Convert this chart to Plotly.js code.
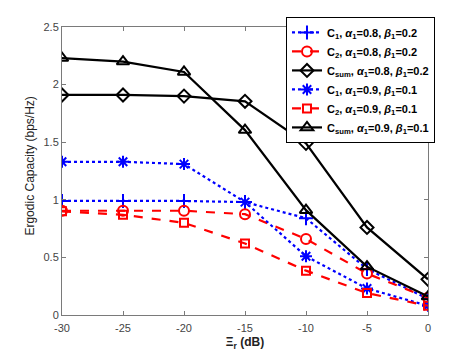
<!DOCTYPE html>
<html><head><meta charset="utf-8">
<script src="https://cdn.plot.ly/plotly-3.0.1.min.js"></script>
<style>body{margin:0;background:#fff}#c{width:474px;height:355px}</style>
</head><body><div id="c"></div>
<script>
const xVals = [-30, -25, -20, -15, -10, -5, 0];
const c1_a08 = [0.99, 0.99, 0.99, 0.98, 0.84, 0.40, 0.14];
const c2_a08 = [0.905, 0.905, 0.905, 0.875, 0.66, 0.36, 0.15];
const csum_a08 = [1.91, 1.91, 1.90, 1.855, 1.49, 0.76, 0.31];
const c1_a09 = [1.33, 1.33, 1.31, 0.98, 0.51, 0.23, 0.08];
const c2_a09 = [0.90, 0.87, 0.80, 0.62, 0.385, 0.19, 0.08];
const csum_a09 = [2.23, 2.20, 2.11, 1.605, 0.91, 0.42, 0.16];
const names = [
  'C<sub>1</sub>, <i>α</i><sub>1</sub>=0.8, <i>β</i><sub>1</sub>=0.2',
  'C<sub>2</sub>, <i>α</i><sub>1</sub>=0.8, <i>β</i><sub>1</sub>=0.2',
  'C<sub>sum</sub>, <i>α</i><sub>1</sub>=0.8, <i>β</i><sub>1</sub>=0.2',
  'C<sub>1</sub>, <i>α</i><sub>1</sub>=0.9, <i>β</i><sub>1</sub>=0.1',
  'C<sub>2</sub>, <i>α</i><sub>1</sub>=0.9, <i>β</i><sub>1</sub>=0.1',
  'C<sub>sum</sub>, <i>α</i><sub>1</sub>=0.9, <i>β</i><sub>1</sub>=0.1'
];
const yTitle = 'Ergodic Capacity (bps/Hz)';
const xTitle = '<b>Ξ<sub>r</sub> (dB)</b>';
const series = [c1_a08, c2_a08, csum_a08, c1_a09, c2_a09, csum_a09];
const colors = ['#0000ff', '#ff0000', '#000000', '#0000ff', '#ff0000', '#000000'];
const dashes = ['dot', 'dash', 'solid', 'dot', 'dash', 'solid'];
const symbols = ['cross-thin-open', 'circle-open', 'diamond-open', 'asterisk-open', 'square-open', 'triangle-up-open'];
const sizes = [10, 10, 10, 10, 8, 11];
const traces = series.map((ys, i) => ({
  x: xVals, y: ys, name: names[i], type: 'scatter', mode: 'lines+markers',
  line: {color: colors[i], width: 2.2, dash: dashes[i]},
  marker: {symbol: symbols[i], size: sizes[i], color: colors[i], line: {color: colors[i], width: 2}}
}));
const axisCommon = {
  showline: true, mirror: 'ticks', linecolor: '#7a7a7a', linewidth: 1,
  ticks: 'inside', ticklen: 4, tickcolor: '#7a7a7a', showgrid: false, zeroline: false,
  tickfont: {family: 'Liberation Sans, Arial, sans-serif', size: 11, color: '#444'}
};
const layout = {
  width: 474, height: 355,
  margin: {l: 62, r: 46, t: 27, b: 40},
  paper_bgcolor: '#fff', plot_bgcolor: '#fff',
  font: {family: 'Liberation Sans, Arial, sans-serif'},
  xaxis: Object.assign({}, axisCommon, {
    range: [-30, 0], tickvals: xVals, ticktext: xVals.map(String), ticklabelstandoff: 3,
    title: {text: xTitle, font: {size: 12, color: '#222'}, standoff: 4}
  }),
  yaxis: Object.assign({}, axisCommon, {
    range: [0, 2.5], tickvals: [0, 0.5, 1, 1.5, 2, 2.5], ticktext: ['0', '0.5', '1', '1.5', '2', '2.5']
  }),
  annotations: [{
    text: yTitle, xref: 'paper', yref: 'paper', x: -0.087, y: 0.516,
    xanchor: 'center', yanchor: 'middle', textangle: -90, showarrow: false,
    font: {size: 12, color: '#222', family: 'Liberation Sans, Arial, sans-serif'}
  }],
  showlegend: true,
  legend: {
    x: 0.612, y: 1.035, xanchor: 'left', yanchor: 'top',
    bgcolor: '#fff', bordercolor: '#000', borderwidth: 1,
    font: {size: 11, color: '#000', family: 'Liberation Sans, Arial, sans-serif', weight: 'bold'},
    tracegroupgap: 0, itemwidth: 30
  }
};
Plotly.newPlot('c', traces, layout, {displayModeBar: false, staticPlot: true});
</script></body></html>
